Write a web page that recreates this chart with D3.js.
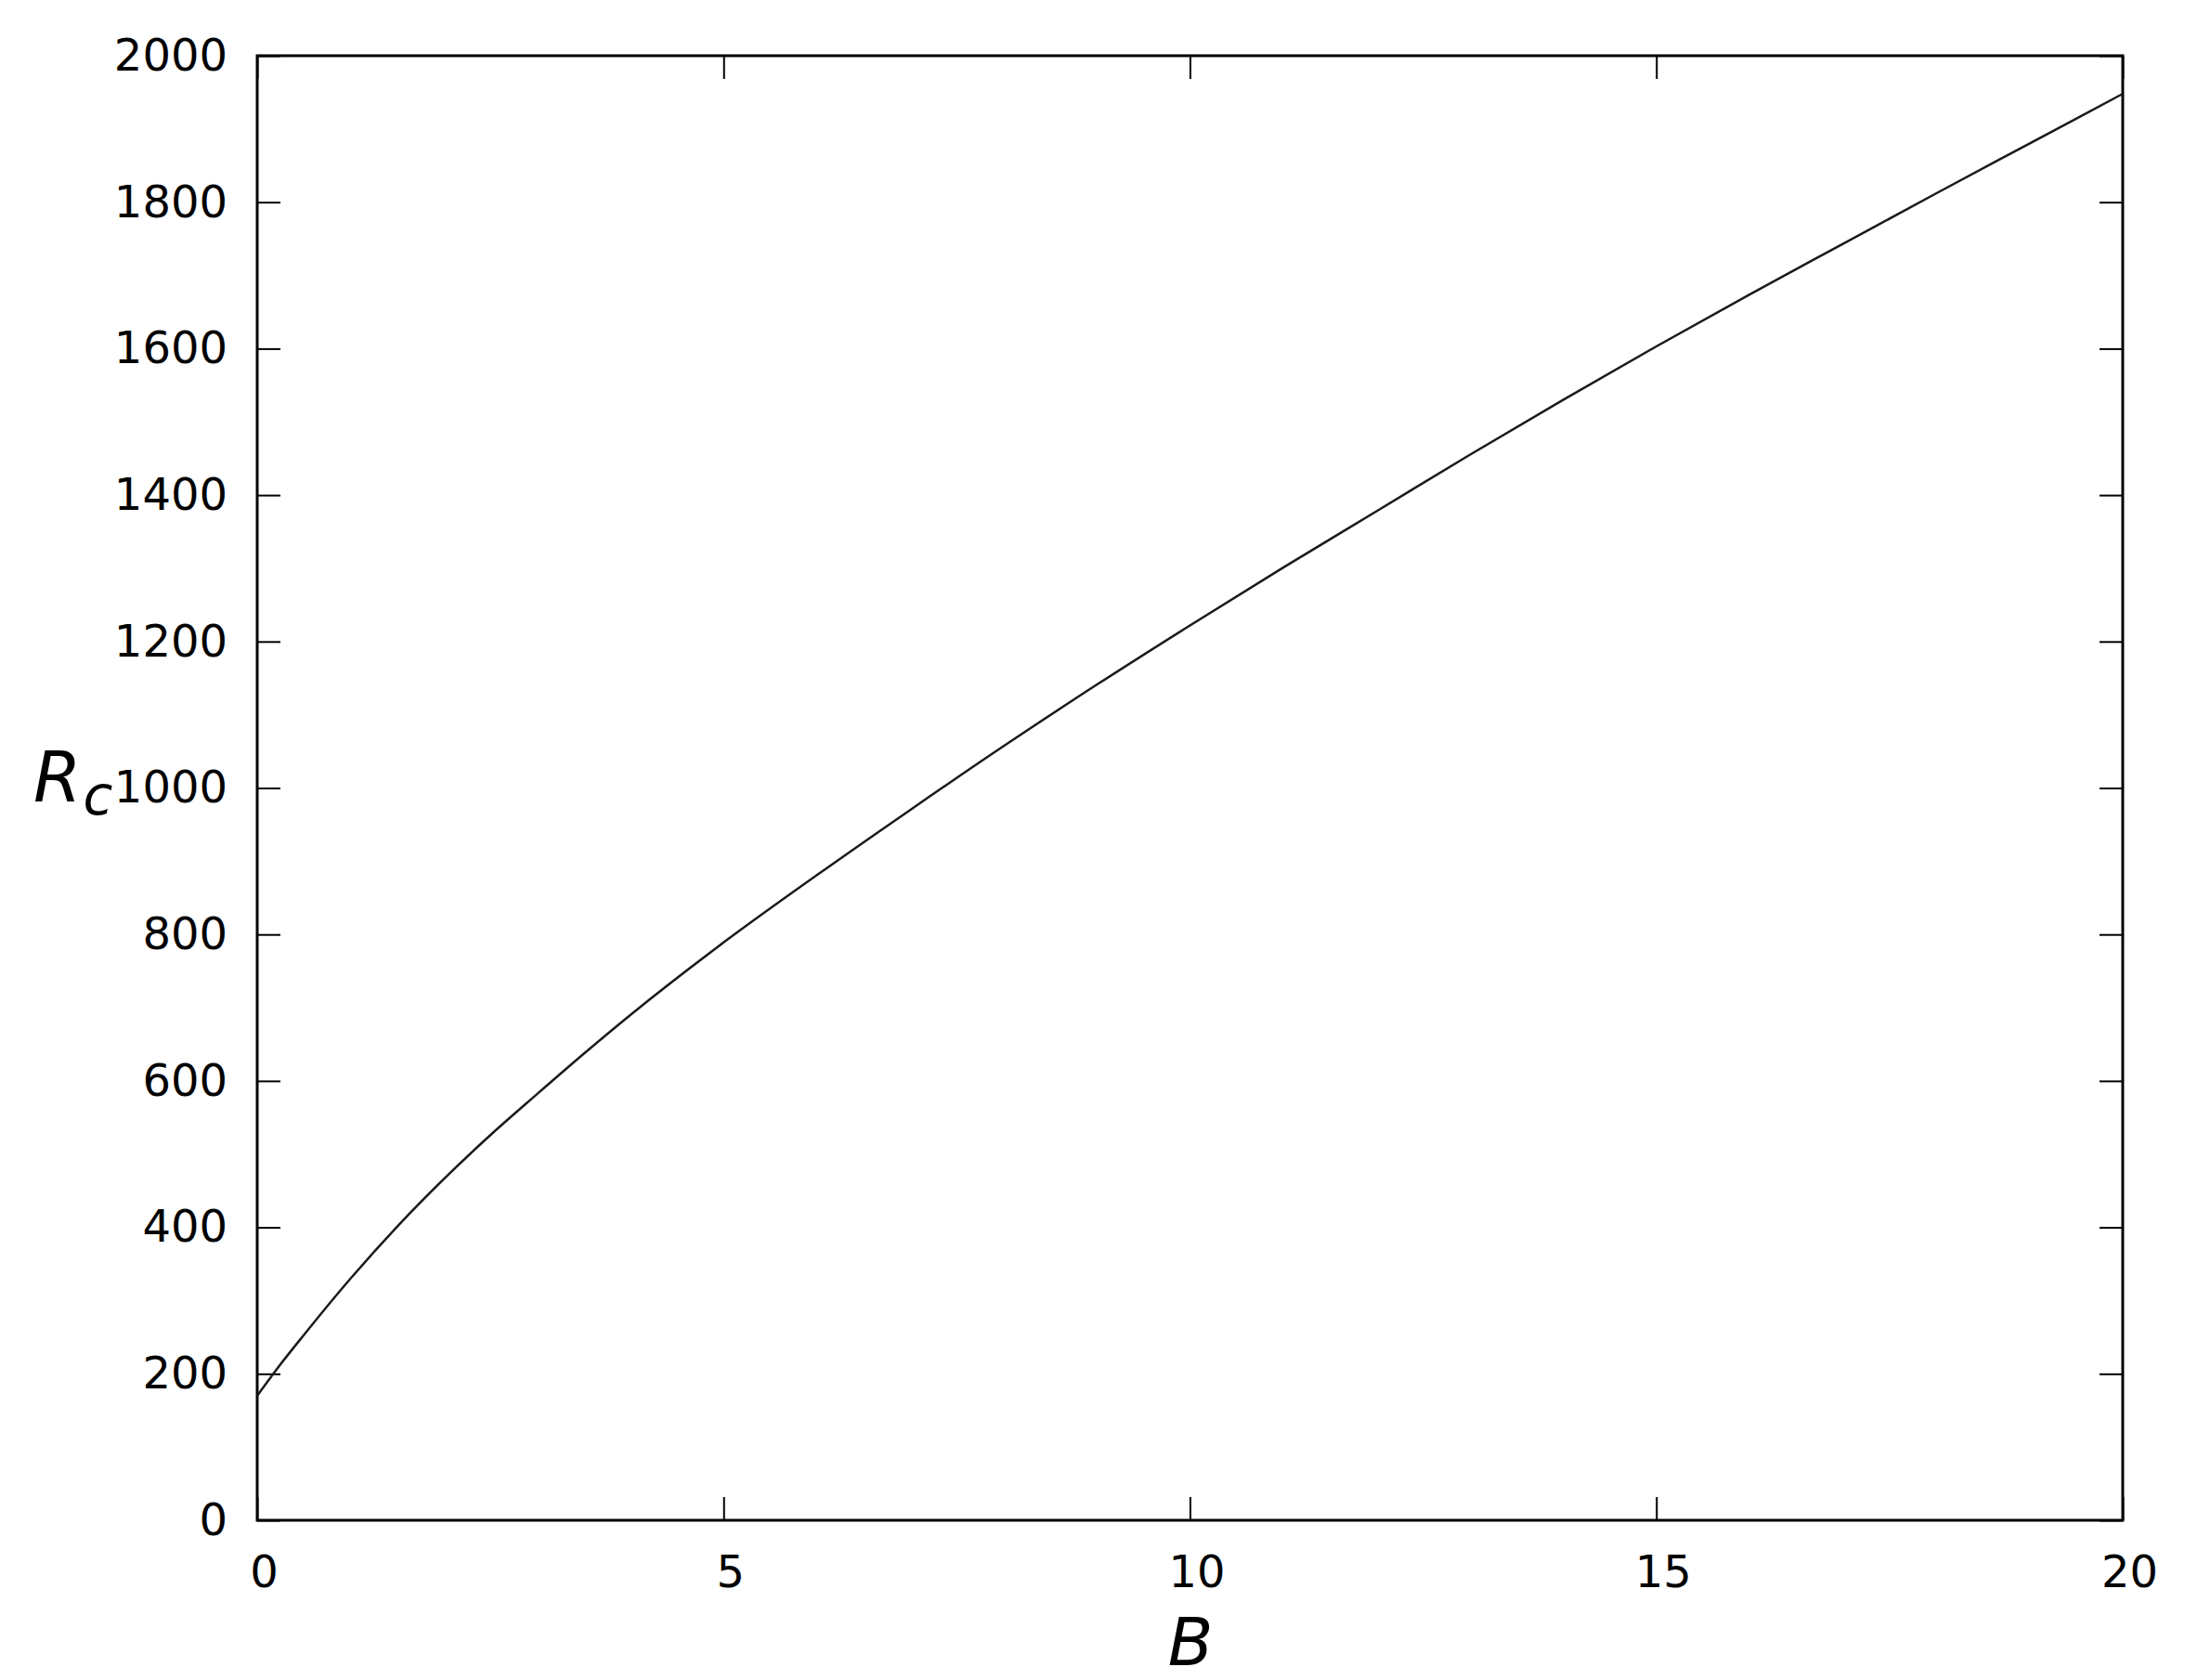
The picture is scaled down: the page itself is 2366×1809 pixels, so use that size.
<!DOCTYPE html>
<html lang="en">
	<head>
		<meta charset="utf-8">
		<title>Rc versus B</title>
		<script src="https://cdn.jsdelivr.net/npm/d3@7"></script>
		<style type="text/css">
			body { margin: 0; background: #fff; }
			text { font-family: "DejaVu Sans", sans-serif; fill: #000; }
		</style>
	</head>
	<body>
		<script type="text/javascript">

			//Data
			let bValues = [0, 0.25, 0.5, 1, 1.5, 2, 2.5, 3, 3.5, 4, 5, 6, 7, 8, 9, 10, 11, 12, 13, 14, 15, 16, 17, 18, 19, 20];
			let rcValues = [170, 213, 253, 330, 401, 466, 526, 582, 637, 690, 789, 881, 970, 1057, 1141, 1222, 1301, 1378, 1455, 1530, 1603, 1674, 1743, 1812, 1880, 1948];
			let xTicks = [0, 5, 10, 15, 20];
			let yTicks = [0, 200, 400, 600, 800, 1000, 1200, 1400, 1600, 1800, 2000];

			//Width and height
			let w = 2366;
			let h = 1809;
			let plotLeft = 277, plotRight = 2286, plotTop = 60, plotBottom = 1637;

			let x = d3.scaleLinear().domain([0, 20]).range([plotLeft, plotRight]);
			let y = d3.scaleLinear().domain([0, 2000]).range([plotBottom, plotTop]);

			let svg = d3.select("body")
						.append("svg")
						.attr("width", w)
						.attr("height", h);

			//Axes, ticks pointing inward on all four sides
			let gx = svg.append("g")
				.attr("transform", "translate(0," + plotBottom + ")")
				.call(d3.axisBottom(x).tickValues(xTicks).tickSize(-25).tickPadding(38).tickFormat(d3.format("d")));
			gx.selectAll("text").attr("dx", 7);

			svg.append("g")
				.attr("transform", "translate(0," + plotTop + ")")
				.call(d3.axisTop(x).tickValues(xTicks).tickSize(-25).tickFormat(""));

			svg.append("g")
				.attr("transform", "translate(" + plotLeft + ",0)")
				.call(d3.axisLeft(y).tickValues(yTicks).tickSize(-25).tickPadding(32).tickFormat(d3.format("d")));

			svg.append("g")
				.attr("transform", "translate(" + plotRight + ",0)")
				.call(d3.axisRight(y).tickValues(yTicks).tickSize(-25).tickFormat(""));

			svg.selectAll(".domain").remove();
			svg.selectAll(".tick line").attr("stroke", "#000").attr("stroke-width", 2);
			svg.selectAll(".tick text").style("font-size", "48px").attr("fill", "#000");

			//Frame
			svg.append("rect")
				.attr("x", plotLeft)
				.attr("y", plotTop)
				.attr("width", plotRight - plotLeft)
				.attr("height", plotBottom - plotTop)
				.attr("fill", "none")
				.attr("stroke", "#000")
				.attr("stroke-width", 3);

			//Curve
			let line = d3.line()
				.x((d, i) => x(bValues[i]))
				.y(d => y(d))
				.curve(d3.curveMonotoneX);

			svg.append("path")
				.datum(rcValues)
				.attr("d", line)
				.attr("fill", "none")
				.attr("stroke", "#1a1a1a")
				.attr("stroke-width", 2.5);

			//Axis labels
			svg.append("text")
				.attr("x", 1282)
				.attr("y", 1793)
				.attr("text-anchor", "middle")
				.style("font-size", "71px")
				.style("font-style", "italic")
				.text("B");

			let rc = svg.append("text")
				.attr("x", 36)
				.attr("y", 863)
				.style("font-size", "74px")
				.style("font-style", "italic");
			rc.append("tspan").text("R");
			rc.append("tspan")
				.attr("dy", 14)
				.attr("dx", 2)
				.style("font-size", "58px")
				.text("c");

		</script>
	</body>
</html>
